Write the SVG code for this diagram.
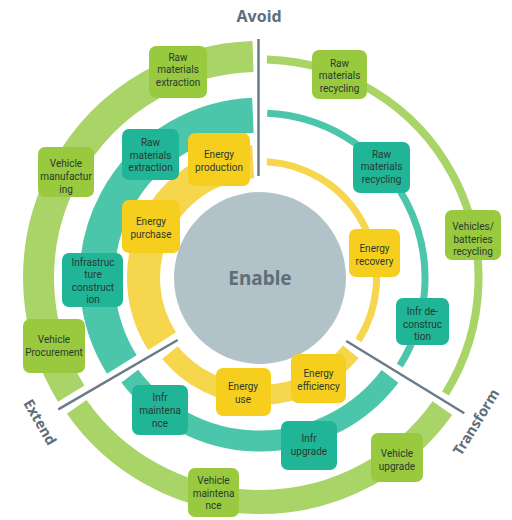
<svg xmlns="http://www.w3.org/2000/svg" width="512" height="520" viewBox="0 0 512 520">
<style>
.band{fill:none;stroke-linecap:butt}
.g{stroke:#a9d468}
.t{stroke:#4cc6ab}
.y{stroke:#f5d64c}
.gb{fill:#98c93f}
.tb{fill:#1fb596}
.yb{fill:#f6cf1e}
.bt{font-family:Roboto,"Liberation Sans",sans-serif;font-size:10px;fill:#2a3a31;text-anchor:middle}
.lab{font-family:"Noto Sans","Open Sans",sans-serif;font-weight:bold;fill:#5e6e7a;text-anchor:middle}
.div{stroke:#6c7b88;stroke-width:2.5;fill:none}
</style>
<rect width="512" height="520" fill="#ffffff"/>
<g id="rings">
  <path class="band g" stroke-width="31" d="M71.2,393.7 A221.5,221.5 0 0 1 253.0,56.6"/>
  <path class="band g" stroke-width="24" d="M442.4,408.1 A224,224 0 0 1 76.7,406.8"/>
  <path class="band g" stroke-width="8" d="M266.9,59.6 A218.5,218.5 0 0 1 445.5,393.5"/>
  <path class="band t" stroke-width="35" d="M121.8,364.4 A163,163 0 0 1 252.9,115.2"/>
  <path class="band t" stroke-width="21" d="M390.0,376.3 A163,163 0 0 1 129.8,376.1"/>
  <path class="band t" stroke-width="7" d="M267.2,113.2 A165,165 0 0 1 399.8,365.7"/>
  <path class="band y" stroke-width="33" d="M162.1,341.1 A116.5,116.5 0 0 1 253.1,161.7"/>
  <path class="band y" stroke-width="20" d="M350.8,351.8 A117,117 0 0 1 169.9,352.6"/>
  <path class="band y" stroke-width="7" d="M266.9,161.7 A116.5,116.5 0 0 1 358.5,340.3"/>
</g>
<g id="connectors">
  <line class="div" x1="258.5" y1="39" x2="258.5" y2="176"/>
  <line class="div" x1="177.7" y1="340" x2="58.3" y2="409.3"/>
  <line class="div" x1="346.3" y1="341" x2="464.3" y2="413.3"/>
</g>
<g id="enable">
  <circle cx="260" cy="278" r="86" fill="#b1c2c9"/>
  <text class="lab" x="260" y="285" font-size="19" fill="#647580">Enable</text>
</g>
<g id="n1"><rect class="gb" x="149" y="46" width="58" height="52" rx="7"/><text class="bt"><tspan x="178" y="60.5">Raw</tspan><tspan x="178" y="73">materials</tspan><tspan x="178" y="85.5">extraction</tspan></text></g>
<g id="n2"><rect class="gb" x="38" y="147" width="56" height="50" rx="7"/><text class="bt"><tspan x="66" y="166.5">Vehicle</tspan><tspan x="66" y="179.5">manufactur</tspan><tspan x="66" y="192.5">ing</tspan></text></g>
<g id="n3"><rect class="tb" x="122" y="129" width="57" height="51" rx="7"/><text class="bt"><tspan x="150.5" y="146">Raw</tspan><tspan x="150.5" y="158.5">materials</tspan><tspan x="150.5" y="171">extraction</tspan></text></g>
<g id="n4"><rect class="yb" x="188" y="133" width="62" height="53" rx="7"/><text class="bt"><tspan x="219" y="157.5">Energy</tspan><tspan x="219" y="170.5">production</tspan></text></g>
<g id="n5"><rect class="yb" x="122" y="200" width="58" height="53" rx="7"/><text class="bt"><tspan x="151" y="225">Energy</tspan><tspan x="151" y="237.5">purchase</tspan></text></g>
<g id="n6"><rect class="tb" x="62" y="253" width="61" height="54" rx="7"/><text class="bt"><tspan x="93" y="265.5">Infrastruc</tspan><tspan x="93" y="278">ture</tspan><tspan x="93" y="290.5">construct</tspan><tspan x="93" y="303">ion</tspan></text></g>
<g id="n7"><rect class="gb" x="23" y="319" width="62" height="54" rx="7"/><text class="bt"><tspan x="54" y="342.5">Vehicle</tspan><tspan x="54" y="355.5">Procurement</tspan></text></g>
<g id="n8"><rect class="tb" x="132" y="385" width="56" height="50" rx="7"/><text class="bt"><tspan x="160" y="400.5">Infr</tspan><tspan x="160" y="413.5">maintena</tspan><tspan x="160" y="426.5">nce</tspan></text></g>
<g id="n9"><rect class="gb" x="188" y="468" width="51" height="49" rx="7"/><text class="bt"><tspan x="213.5" y="484">Vehicle</tspan><tspan x="213.5" y="496.5">maintena</tspan><tspan x="213.5" y="509">nce</tspan></text></g>
<g id="n10"><rect class="yb" x="216" y="368" width="55" height="48" rx="7"/><text class="bt"><tspan x="243" y="390">Energy</tspan><tspan x="243" y="402.5">use</tspan></text></g>
<g id="n11"><rect class="yb" x="291" y="354" width="55" height="49" rx="7"/><text class="bt"><tspan x="318.5" y="376.5">Energy</tspan><tspan x="318.5" y="389.5">efficiency</tspan></text></g>
<g id="n12"><rect class="tb" x="281" y="421" width="56" height="49" rx="7"/><text class="bt"><tspan x="309" y="441.5">Infr</tspan><tspan x="309" y="454.5">upgrade</tspan></text></g>
<g id="n13"><rect class="gb" x="371" y="433" width="52" height="49" rx="7"/><text class="bt"><tspan x="397" y="456.5">Vehicle</tspan><tspan x="397" y="469.5">upgrade</tspan></text></g>
<g id="n14"><rect class="tb" x="396" y="298" width="53" height="47" rx="7"/><text class="bt"><tspan x="422.5" y="315">Infr de-</tspan><tspan x="422.5" y="327.5">construc</tspan><tspan x="422.5" y="340">tion</tspan></text></g>
<g id="n15"><rect class="gb" x="312" y="50" width="55" height="49" rx="7"/><text class="bt"><tspan x="339.5" y="66.5">Raw</tspan><tspan x="339.5" y="79">materials</tspan><tspan x="339.5" y="91.5">recycling</tspan></text></g>
<g id="n16"><rect class="tb" x="353" y="142" width="57" height="51" rx="7"/><text class="bt"><tspan x="381.5" y="157.5">Raw</tspan><tspan x="381.5" y="170">materials</tspan><tspan x="381.5" y="182.5">recycling</tspan></text></g>
<g id="n17"><rect class="gb" x="445" y="210" width="56" height="50" rx="7"/><text class="bt"><tspan x="473" y="230">Vehicles/</tspan><tspan x="473" y="242.5">batteries</tspan><tspan x="473" y="255">recycling</tspan></text></g>
<g id="n18"><rect class="yb" x="349" y="229" width="51" height="48" rx="7"/><text class="bt"><tspan x="374.5" y="251.5">Energy</tspan><tspan x="374.5" y="264.5">recovery</tspan></text></g>
<g id="labels">
  <text class="lab" x="259" y="21.5" font-size="16">Avoid</text>
  <text class="lab" font-size="14.5" dominant-baseline="central" transform="translate(40.7,421.7) rotate(60)">Extend</text>
  <text class="lab" font-size="14.5" dominant-baseline="central" transform="translate(475.3,421.7) rotate(-58.5)">Transform</text>
</g>
</svg>
